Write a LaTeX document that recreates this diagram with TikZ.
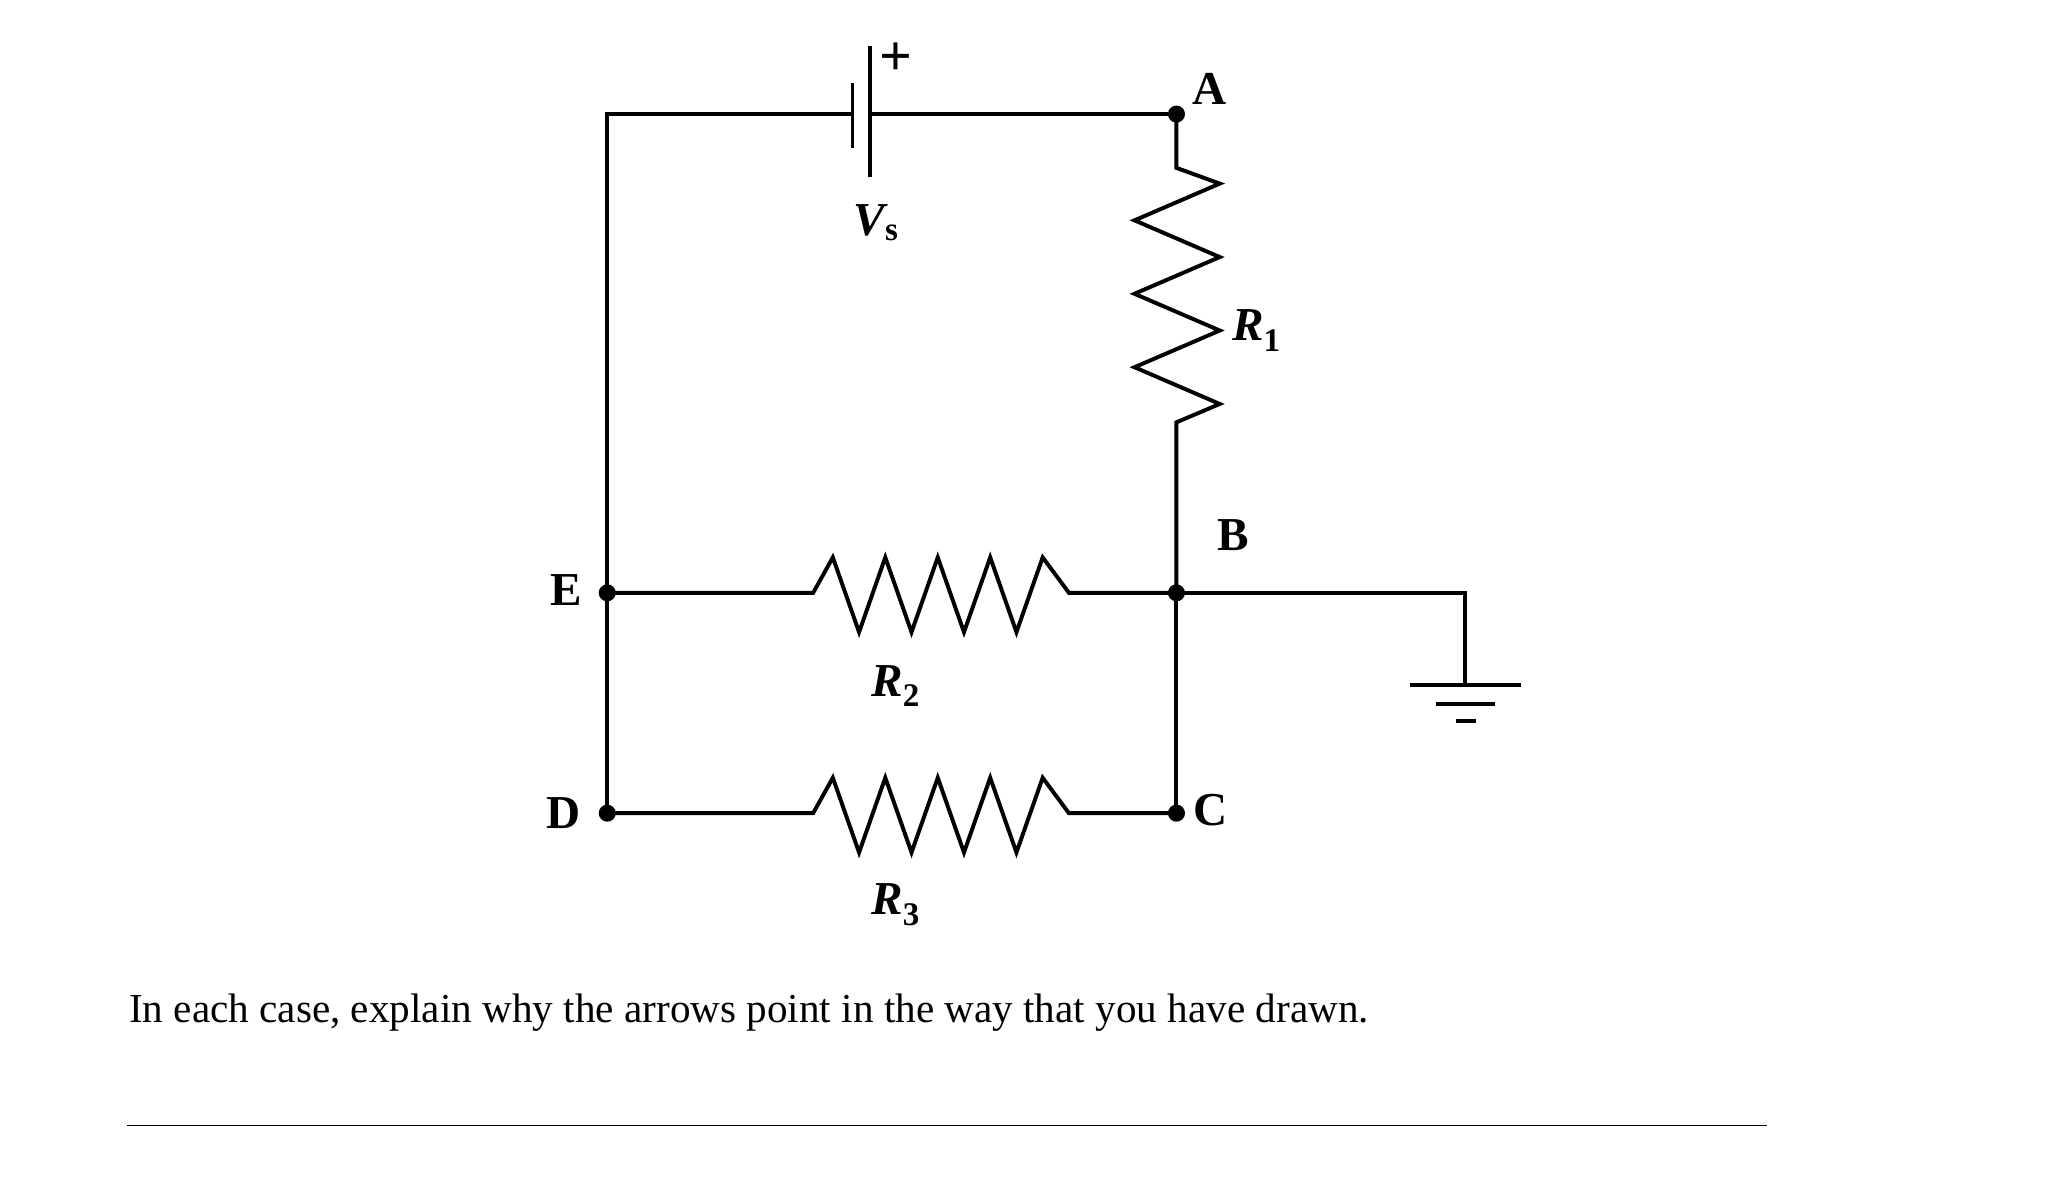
\documentclass[tikz,border=0pt]{standalone}
\usepackage{fontspec}
\setmainfont{Liberation Serif}
\newcommand{\mysub}[1]{\textsubscript{\upshape #1}}
\begin{document}
\begin{tikzpicture}[x=1pt,y=-1pt,line width=3pt,
  lab/.style={font=\fontsize{36}{40}\selectfont\bfseries},
  ilab/.style={font=\fontsize{36}{40}\selectfont\bfseries\itshape},
  dot/.style={circle,fill=black,inner sep=0pt,minimum size=13pt}]
\useasboundingbox (0,0) rectangle (1560,917);
\node[dot] (A) at (897,87) {};
\node[dot] (B) at (897,452) {};
\node[dot] (C) at (897,620) {};
\node[dot] (E) at (463,452) {};
\node[dot] (D) at (463,620) {};
\coordinate (TL) at (463,87);
\coordinate (P1) at (650,87);
\coordinate (P2) at (663,87);
\coordinate (G) at (1117,452);
\coordinate (G2) at (1117,522);
% wires
\draw (E.center) -- (TL) -- (P1);
\draw (P2) -- (A.center);
\draw (E.center) -- (D.center);
\draw (B.center) -- (C.center);
\draw (B.center) -- (G) -- (G2);
% battery
\draw (650,63) -- (650,113);
\draw (663,35) -- (663,135);
\node[font=\fontsize{44}{44}\selectfont\bfseries] at (683,45) {+};
\node[ilab] at (668,170) {V\mysub{s}};
% R1
\draw (A.center) -- (897,128) -- (930,140) -- (865,168) -- (930,196) -- (865,224) -- (930,252) -- (865,280) -- (930,308) -- (897,322) -- (B.center);
% R2
\draw (E.center) -- (620,452) -- (635,425) -- (655,482) -- (675,425) -- (695,482) -- (715,425) -- (735,482) -- (755,425) -- (775,482) -- (795,425) -- (815,452) -- (B.center);
% R3
\draw (D.center) -- (620,620) -- (635,593) -- (655,650) -- (675,593) -- (695,650) -- (715,593) -- (735,650) -- (755,593) -- (775,650) -- (795,593) -- (815,620) -- (C.center);
% ground
\draw (1075,522) -- (1160,522);
\draw (1095,537) -- (1140,537);
\draw (1110,550) -- (1125,550);
% labels
\node[lab] at (922,68) {A};
\node[lab] at (940,408) {B};
\node[lab] at (923,618) {C};
\node[lab] at (430,620) {D};
\node[lab] at (432,450) {E};
\node[ilab] at (958,252) {R\mysub{1}};
\node[ilab] at (683,523) {R\mysub{2}};
\node[ilab] at (683,690) {R\mysub{3}};
\node[anchor=west,inner sep=0pt,font=\fontsize{31.4}{38}\selectfont] (T) at (97,772) {In each case, explain why the arrows point in the way that you have drawn.};
\draw[line width=1.2pt] (97,858) -- (1347,858);
\end{tikzpicture}
\end{document}
